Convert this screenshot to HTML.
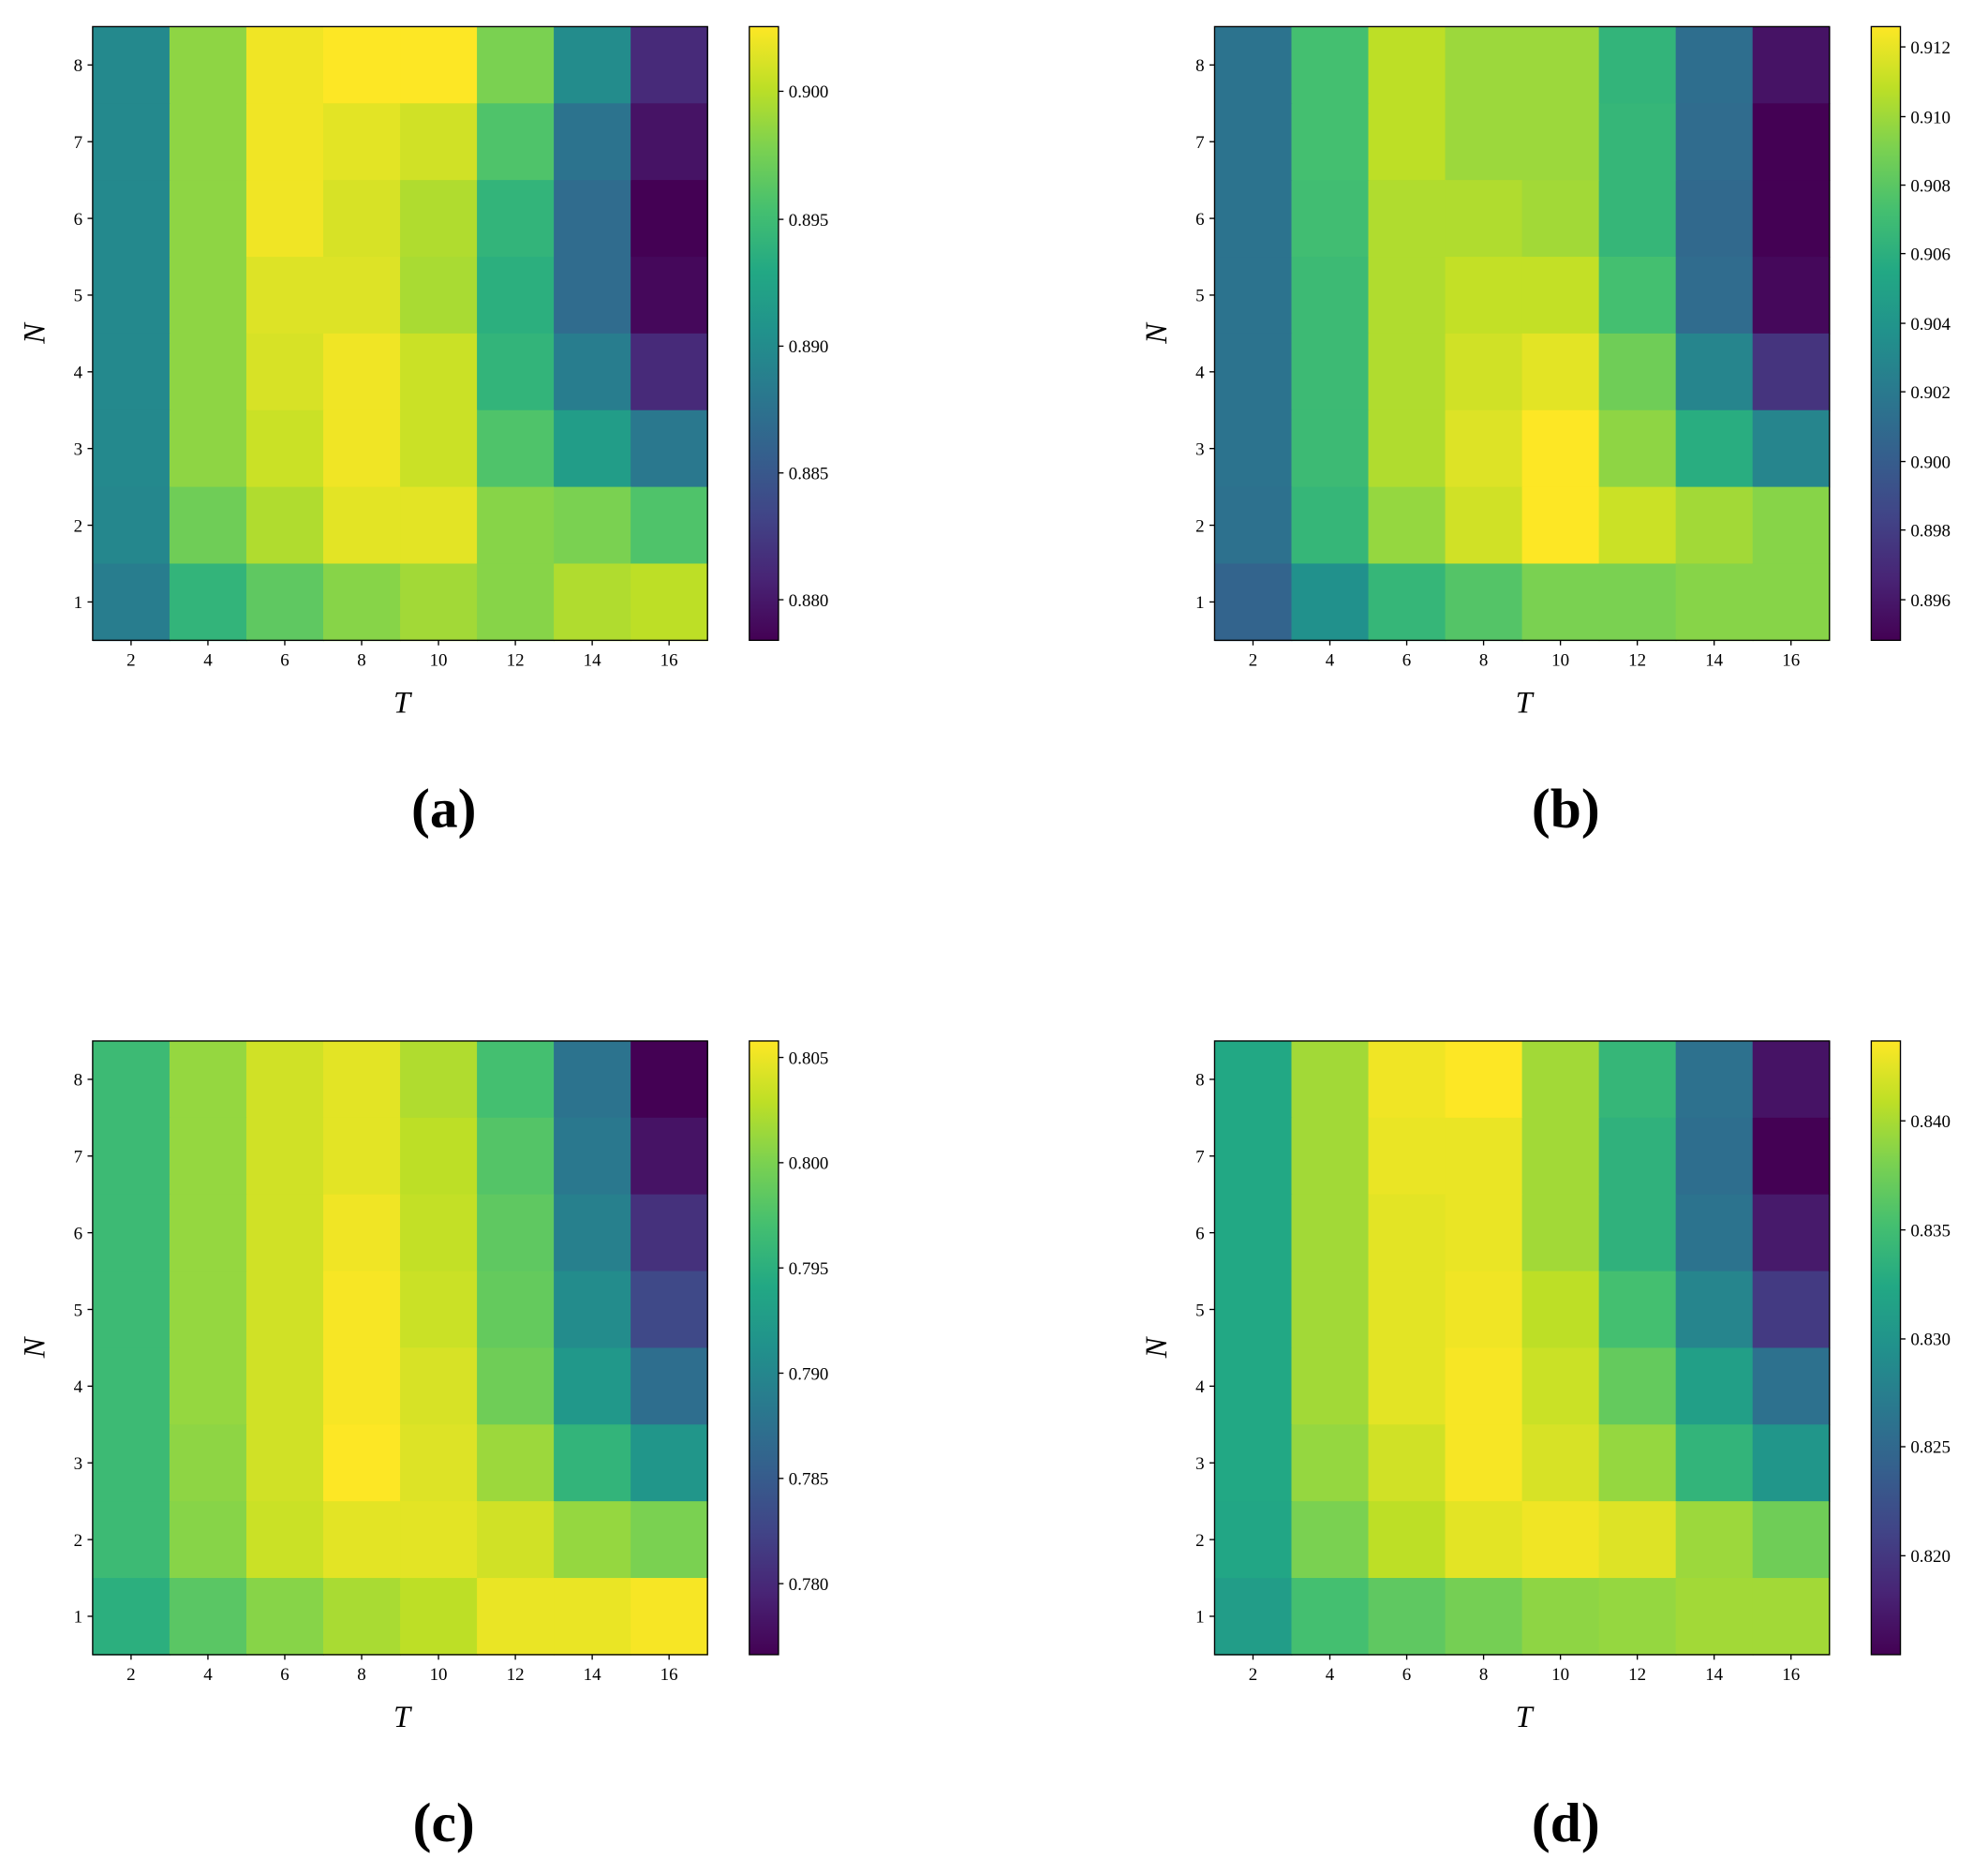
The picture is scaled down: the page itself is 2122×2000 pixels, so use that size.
<!DOCTYPE html>
<html><head><meta charset="utf-8"><style>html,body{margin:0;padding:0;background:#fff}svg{display:block}</style></head>
<body>
<svg id="s" xmlns="http://www.w3.org/2000/svg" width="2122" height="2000" viewBox="0 0 1568 1478" font-family="Liberation Serif, serif"></svg>
<script>
const V=[[68,1,84],[72,36,117],[65,68,135],[53,95,141],[42,120,142],[33,145,140],[34,168,132],[68,191,112],[122,209,81],[189,223,38],[253,231,37]];
function vir(t){t=Math.max(0,Math.min(1,t))*10;let i=Math.min(9,Math.floor(t)),f=t-i;const a=V[i],b=V[i+1];return`rgb(${a.map((x,k)=>Math.round(x+(b[k]-x)*f)).join(',')})`;}
const P=[
{x:73,y:21,cb:[[0.900,72],[0.895,173],[0.890,273],[0.885,373],[0.880,473]],fmt:3,lab:'(a)',
d:[[.47,.83,.98,1,1,.8,.48,.12],[.47,.83,.98,.96,.93,.72,.38,.05],[.47,.83,.98,.94,.88,.65,.35,0],[.47,.83,.95,.95,.87,.63,.35,.02],[.47,.83,.94,.98,.92,.65,.42,.12],[.47,.83,.92,.98,.92,.72,.55,.4],[.46,.78,.88,.96,.96,.82,.8,.72],[.42,.65,.75,.82,.86,.82,.88,.9]]},
{x:958,y:21,cb:[[0.912,37],[0.910,92],[0.908,146],[0.906,200],[0.904,255],[0.902,309],[0.900,364],[0.898,418],[0.896,473]],fmt:3,lab:'(b)',
d:[[.38,.7,.9,.85,.85,.65,.36,.05],[.38,.7,.9,.85,.85,.66,.35,0],[.38,.69,.88,.88,.86,.66,.34,0],[.38,.68,.88,.91,.91,.7,.35,.02],[.38,.68,.88,.93,.96,.78,.45,.15],[.38,.68,.88,.95,1,.83,.62,.45],[.37,.66,.84,.93,1,.92,.86,.82],[.32,.5,.66,.73,.8,.8,.82,.82]]},
{x:73,y:821,cb:[[0.805,834],[0.800,917],[0.795,1000],[0.790,1083],[0.785,1166],[0.780,1249]],fmt:3,lab:'(c)',
d:[[.68,.84,.93,.96,.88,.7,.38,0],[.68,.84,.93,.96,.9,.73,.4,.05],[.68,.84,.93,.98,.91,.75,.43,.14],[.68,.84,.93,.99,.92,.76,.48,.22],[.68,.84,.93,.99,.94,.78,.53,.36],[.68,.83,.93,1,.95,.85,.65,.52],[.68,.82,.92,.96,.96,.93,.84,.8],[.63,.74,.82,.87,.9,.97,.97,.99]]},
{x:958,y:821,cb:[[0.840,884],[0.835,970],[0.830,1056],[0.825,1141],[0.820,1227]],fmt:3,lab:'(d)',
d:[[.6,.86,.98,1,.86,.66,.37,.05],[.6,.86,.97,.97,.86,.64,.36,0],[.6,.86,.96,.97,.86,.64,.38,.07],[.6,.86,.96,.98,.9,.7,.45,.17],[.6,.86,.96,.99,.92,.76,.56,.37],[.6,.84,.93,.99,.94,.84,.65,.52],[.59,.8,.9,.96,.98,.95,.85,.78],[.55,.7,.75,.79,.83,.84,.86,.86]]}];
let h='<rect width="1568" height="1478" fill="#fff"/>';
const W=485,H=484,cw=W/8,rh=H/8;
for(const p of P){
 p.d.forEach((r,i)=>r.forEach((v,j)=>{h+=`<rect x="${p.x+j*cw}" y="${p.y+i*rh}" width="${cw+0.6}" height="${rh+0.6}" fill="${vir(v)}"/>`;}));
 h+=`<rect x="${p.x}" y="${p.y}" width="${W}" height="${H}" fill="none" stroke="#000" stroke-width="1"/>`;
 for(let j=0;j<8;j++){const cx=p.x+(j+.5)*cw;h+=`<line x1="${cx}" y1="${p.y+H}" x2="${cx}" y2="${p.y+H+4}" stroke="#000"/><text x="${cx}" y="${p.y+H+20}" font-size="14" text-anchor="middle">${2*(j+1)}</text>`;}
 for(let i=0;i<8;i++){const cy=p.y+(i+.5)*rh;h+=`<line x1="${p.x-4}" y1="${cy}" x2="${p.x}" y2="${cy}" stroke="#000"/><text x="${p.x-8}" y="${cy+5}" font-size="14" text-anchor="end">${8-i}</text>`;}
 h+=`<text x="${p.x+244}" y="${p.y+H+57}" font-size="24" font-style="italic" text-anchor="middle">T</text>`;
 h+=`<text transform="translate(${p.x-38},${p.y+242}) rotate(-90)" font-size="24" font-style="italic" text-anchor="middle">N</text>`;
 const bx=p.x+518;
 const id='g'+p.lab[1];
 h+=`<defs><linearGradient id="${id}" x1="0" y1="1" x2="0" y2="0">`;
 for(let k=0;k<=10;k++)h+=`<stop offset="${k/10}" stop-color="${vir(k/10)}"/>`;
 h+=`</linearGradient></defs><rect x="${bx}" y="${p.y}" width="23" height="${H}" fill="url(#${id})" stroke="#000" stroke-width="1"/>`;
 for(const [v,y] of p.cb)h+=`<line x1="${bx+23}" y1="${y}" x2="${bx+27}" y2="${y}" stroke="#000"/><text x="${bx+31}" y="${y+5}" font-size="14">${v.toFixed(3)}</text>`;
 h+=`<text x="${p.x+277}" y="${p.y+H+147}" font-size="44" font-weight="bold" text-anchor="middle">${p.lab}</text>`;
}
document.getElementById('s').innerHTML=h;
</script>
</body></html>
